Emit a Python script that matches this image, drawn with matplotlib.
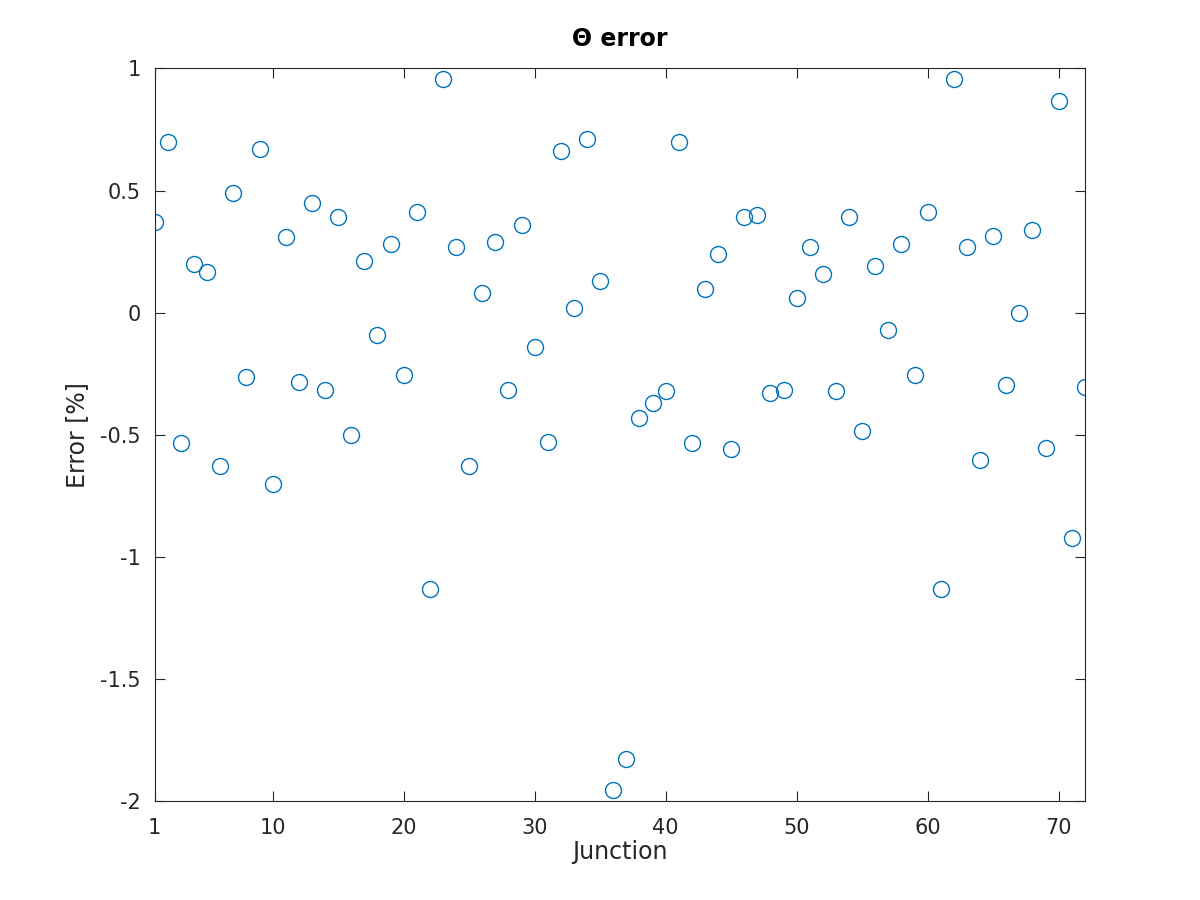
import matplotlib
matplotlib.use("Agg")
import matplotlib.pyplot as plt
import numpy as np

junction = np.arange(1, 73)
error = [0.37, 0.70, -0.535, 0.20, 0.165, -0.63, 0.49, -0.265, 0.67, -0.70,
         0.31, -0.285, 0.45, -0.315, 0.39, -0.50, 0.21, -0.09, 0.28, -0.255,
         0.41, -1.13, 0.955, 0.27, -0.63, 0.08, 0.29, -0.315, 0.36, -0.14,
         -0.53, 0.66, 0.02, 0.71, 0.13, -1.955, -1.83, -0.43, -0.37, -0.32,
         0.70, -0.535, 0.095, 0.24, -0.56, 0.39, 0.40, -0.33, -0.315, 0.06,
         0.27, 0.16, -0.32, 0.39, -0.485, 0.19, -0.07, 0.28, -0.255, 0.41,
         -1.13, 0.955, 0.27, -0.605, 0.315, -0.295, 0.0, 0.34, -0.555, 0.865,
         -0.925, -0.305]
xticks = [1, 10, 20, 30, 40, 50, 60, 70]
yticks = [-2, -1.5, -1, -0.5, 0, 0.5, 1]

fig = plt.figure(figsize=(12, 9), dpi=100)
ax = fig.add_axes([0.129, 0.11, 0.775, 0.814])
ax.plot(junction, error, 'o', mfc='none', mec='#0072BD', ms=11.5, mew=1)
ax.set_xlim(1, 72)
ax.set_ylim(-2, 1)
ax.set_xticks(xticks)
ax.set_yticks(yticks)
ax.set_yticklabels(['-2', '-1.5', '-1', '-0.5', '0', '0.5', '1'])
ax.tick_params(direction='in', top=True, right=True, labelsize=15, length=7,
               colors='#262626')
ax.tick_params(axis='x', pad=12)
ax.tick_params(axis='y', pad=10)
for s in ax.spines.values():
    s.set_color('#262626')
ax.set_xlabel('Junction', fontsize=17, color='#262626', labelpad=2)
ax.set_ylabel('Error [%]', fontsize=17, color='#262626', labelpad=8)
ax.set_title('Θ error', fontsize=17, fontweight='bold', pad=16)
fig.savefig('out.png')
